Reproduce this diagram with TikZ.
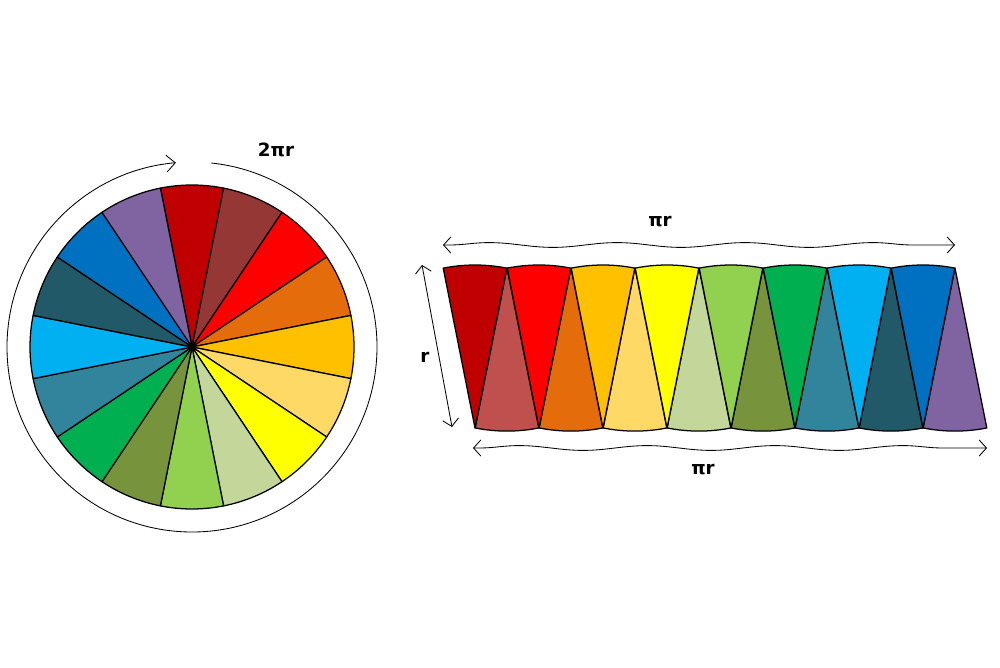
\documentclass[tikz,border=0pt]{standalone}
\usepackage{fontspec}
\setmainfont{DejaVu Sans}
\usepackage{tikz}
\usetikzlibrary{positioning}
\usetikzlibrary{calc}
\usetikzlibrary{arrows.meta}
\usetikzlibrary{decorations.pathmorphing}

\definecolor{cDarkRed}{HTML}{C00000}
\definecolor{cBrown}{HTML}{953735}
\definecolor{cRose}{HTML}{C0504D}
\definecolor{cRed}{HTML}{FF0000}
\definecolor{cOrange}{HTML}{E46C0A}
\definecolor{cGold}{HTML}{FFC000}
\definecolor{cSand}{HTML}{FFD966}
\definecolor{cYellow}{HTML}{FFFF00}
\definecolor{cSage}{HTML}{C4D79B}
\definecolor{cLime}{HTML}{92D050}
\definecolor{cOlive}{HTML}{77933C}
\definecolor{cGreen}{HTML}{00B050}
\definecolor{cTeal}{HTML}{31849B}
\definecolor{cSky}{HTML}{00B0F0}
\definecolor{cPetrol}{HTML}{215968}
\definecolor{cBlue}{HTML}{0070C0}
\definecolor{cPurple}{HTML}{8064A2}

\begin{document}
\begin{tikzpicture}[x=0.25mm, y=0.25mm]
% -------------------------------------------------
\tikzset{
  slice/.style={draw=black, line width=0.9pt, line join=round},
  ring/.style={draw, line width=0.6pt, -{Straight Barb[length=2.2mm, width=4.2mm]}},
  brace/.style={draw, line width=0.6pt,
    {Straight Barb[length=1.8mm, width=4mm]}-{Straight Barb[length=1.8mm, width=4mm]},
    decorate, decoration={snake, segment length=32mm, amplitude=0.6mm, pre length=1.5mm, post length=1.5mm}},
  side/.style={draw, line width=0.6pt, {Straight Barb[length=1.8mm, width=4mm]}-{Straight Barb[length=1.8mm, width=4mm]}},
  lbl/.style={font=\bfseries\fontsize{13}{15}\selectfont, inner sep=0pt}
}
% -------------------------------------------------
\useasboundingbox (0,0) rectangle (1000,667);

% The wheel
\coordinate (ctr) at (192,320);

\filldraw[slice, fill=cDarkRed] (ctr) -- ++(78.75:162) arc[start angle=78.75, end angle=101.25, radius=162] -- cycle;
\filldraw[slice, fill=cBrown]   (ctr) -- ++(56.25:162) arc[start angle=56.25, end angle=78.75, radius=162] -- cycle;
\filldraw[slice, fill=cRed]     (ctr) -- ++(33.75:162) arc[start angle=33.75, end angle=56.25, radius=162] -- cycle;
\filldraw[slice, fill=cOrange]  (ctr) -- ++(11.25:162) arc[start angle=11.25, end angle=33.75, radius=162] -- cycle;
\filldraw[slice, fill=cGold]    (ctr) -- ++(-11.25:162) arc[start angle=-11.25, end angle=11.25, radius=162] -- cycle;
\filldraw[slice, fill=cSand]    (ctr) -- ++(-33.75:162) arc[start angle=-33.75, end angle=-11.25, radius=162] -- cycle;
\filldraw[slice, fill=cYellow]  (ctr) -- ++(-56.25:162) arc[start angle=-56.25, end angle=-33.75, radius=162] -- cycle;
\filldraw[slice, fill=cSage]    (ctr) -- ++(-78.75:162) arc[start angle=-78.75, end angle=-56.25, radius=162] -- cycle;
\filldraw[slice, fill=cLime]    (ctr) -- ++(-101.25:162) arc[start angle=-101.25, end angle=-78.75, radius=162] -- cycle;
\filldraw[slice, fill=cOlive]   (ctr) -- ++(-123.75:162) arc[start angle=-123.75, end angle=-101.25, radius=162] -- cycle;
\filldraw[slice, fill=cGreen]   (ctr) -- ++(-146.25:162) arc[start angle=-146.25, end angle=-123.75, radius=162] -- cycle;
\filldraw[slice, fill=cTeal]    (ctr) -- ++(-168.75:162) arc[start angle=-168.75, end angle=-146.25, radius=162] -- cycle;
\filldraw[slice, fill=cSky]     (ctr) -- ++(168.75:162) arc[start angle=168.75, end angle=191.25, radius=162] -- cycle;
\filldraw[slice, fill=cPetrol]  (ctr) -- ++(146.25:162) arc[start angle=146.25, end angle=168.75, radius=162] -- cycle;
\filldraw[slice, fill=cBlue]    (ctr) -- ++(123.75:162) arc[start angle=123.75, end angle=146.25, radius=162] -- cycle;
\filldraw[slice, fill=cPurple]  (ctr) -- ++(101.25:162) arc[start angle=101.25, end angle=123.75, radius=162] -- cycle;

\draw[ring] ($(ctr)+(84:185)$) arc[start angle=84, end angle=-265, radius=185];
\node[lbl] (circ) at (276,517) {2πr};

% The strip: apexes of the slices pointing down / up
\coordinate (dn1) at (475,239);
\coordinate (dn2) at (539,239);
\coordinate (dn3) at (603,239);
\coordinate (dn4) at (667,239);
\coordinate (dn5) at (731,239);
\coordinate (dn6) at (795,239);
\coordinate (dn7) at (859,239);
\coordinate (dn8) at (923,239);
\coordinate (up1) at (507,398.9);
\coordinate (up2) at (571,398.9);
\coordinate (up3) at (635,398.9);
\coordinate (up4) at (699,398.9);
\coordinate (up5) at (763,398.9);
\coordinate (up6) at (827,398.9);
\coordinate (up7) at (891,398.9);
\coordinate (up8) at (955,398.9);

\filldraw[slice, fill=cRose]    (up1) -- ++(-101.25:163) arc[start angle=-101.25, end angle=-78.75, radius=163] -- cycle;
\filldraw[slice, fill=cOrange]  (up2) -- ++(-101.25:163) arc[start angle=-101.25, end angle=-78.75, radius=163] -- cycle;
\filldraw[slice, fill=cSand]    (up3) -- ++(-101.25:163) arc[start angle=-101.25, end angle=-78.75, radius=163] -- cycle;
\filldraw[slice, fill=cSage]    (up4) -- ++(-101.25:163) arc[start angle=-101.25, end angle=-78.75, radius=163] -- cycle;
\filldraw[slice, fill=cOlive]   (up5) -- ++(-101.25:163) arc[start angle=-101.25, end angle=-78.75, radius=163] -- cycle;
\filldraw[slice, fill=cTeal]    (up6) -- ++(-101.25:163) arc[start angle=-101.25, end angle=-78.75, radius=163] -- cycle;
\filldraw[slice, fill=cPetrol]  (up7) -- ++(-101.25:163) arc[start angle=-101.25, end angle=-78.75, radius=163] -- cycle;
\filldraw[slice, fill=cPurple]  (up8) -- ++(-101.25:163) arc[start angle=-101.25, end angle=-78.75, radius=163] -- cycle;

\filldraw[slice, fill=cDarkRed] (dn1) -- ++(78.75:163) arc[start angle=78.75, end angle=101.25, radius=163] -- cycle;
\filldraw[slice, fill=cRed]     (dn2) -- ++(78.75:163) arc[start angle=78.75, end angle=101.25, radius=163] -- cycle;
\filldraw[slice, fill=cGold]    (dn3) -- ++(78.75:163) arc[start angle=78.75, end angle=101.25, radius=163] -- cycle;
\filldraw[slice, fill=cYellow]  (dn4) -- ++(78.75:163) arc[start angle=78.75, end angle=101.25, radius=163] -- cycle;
\filldraw[slice, fill=cLime]    (dn5) -- ++(78.75:163) arc[start angle=78.75, end angle=101.25, radius=163] -- cycle;
\filldraw[slice, fill=cGreen]   (dn6) -- ++(78.75:163) arc[start angle=78.75, end angle=101.25, radius=163] -- cycle;
\filldraw[slice, fill=cSky]     (dn7) -- ++(78.75:163) arc[start angle=78.75, end angle=101.25, radius=163] -- cycle;
\filldraw[slice, fill=cBlue]    (dn8) -- ++(78.75:163) arc[start angle=78.75, end angle=101.25, radius=163] -- cycle;

% Measures
\coordinate (top-l) at (443,422);
\coordinate (top-r) at (955,422);
\coordinate (bot-l) at (473,219);
\coordinate (bot-r) at (987,219);
\coordinate (side-t) at (422,402);
\coordinate (side-b) at (452,240);

\path[brace] (top-l) -- (top-r);
\path[brace] (bot-l) -- (bot-r);
\path[side] (side-t) -- (side-b);

\node[lbl] (halftop) at (660,445) {πr};
\node[lbl] (halfbot) at (703,197) {πr};
\node[lbl] (rad) at (425,310) {r};

\end{tikzpicture}
\end{document}
